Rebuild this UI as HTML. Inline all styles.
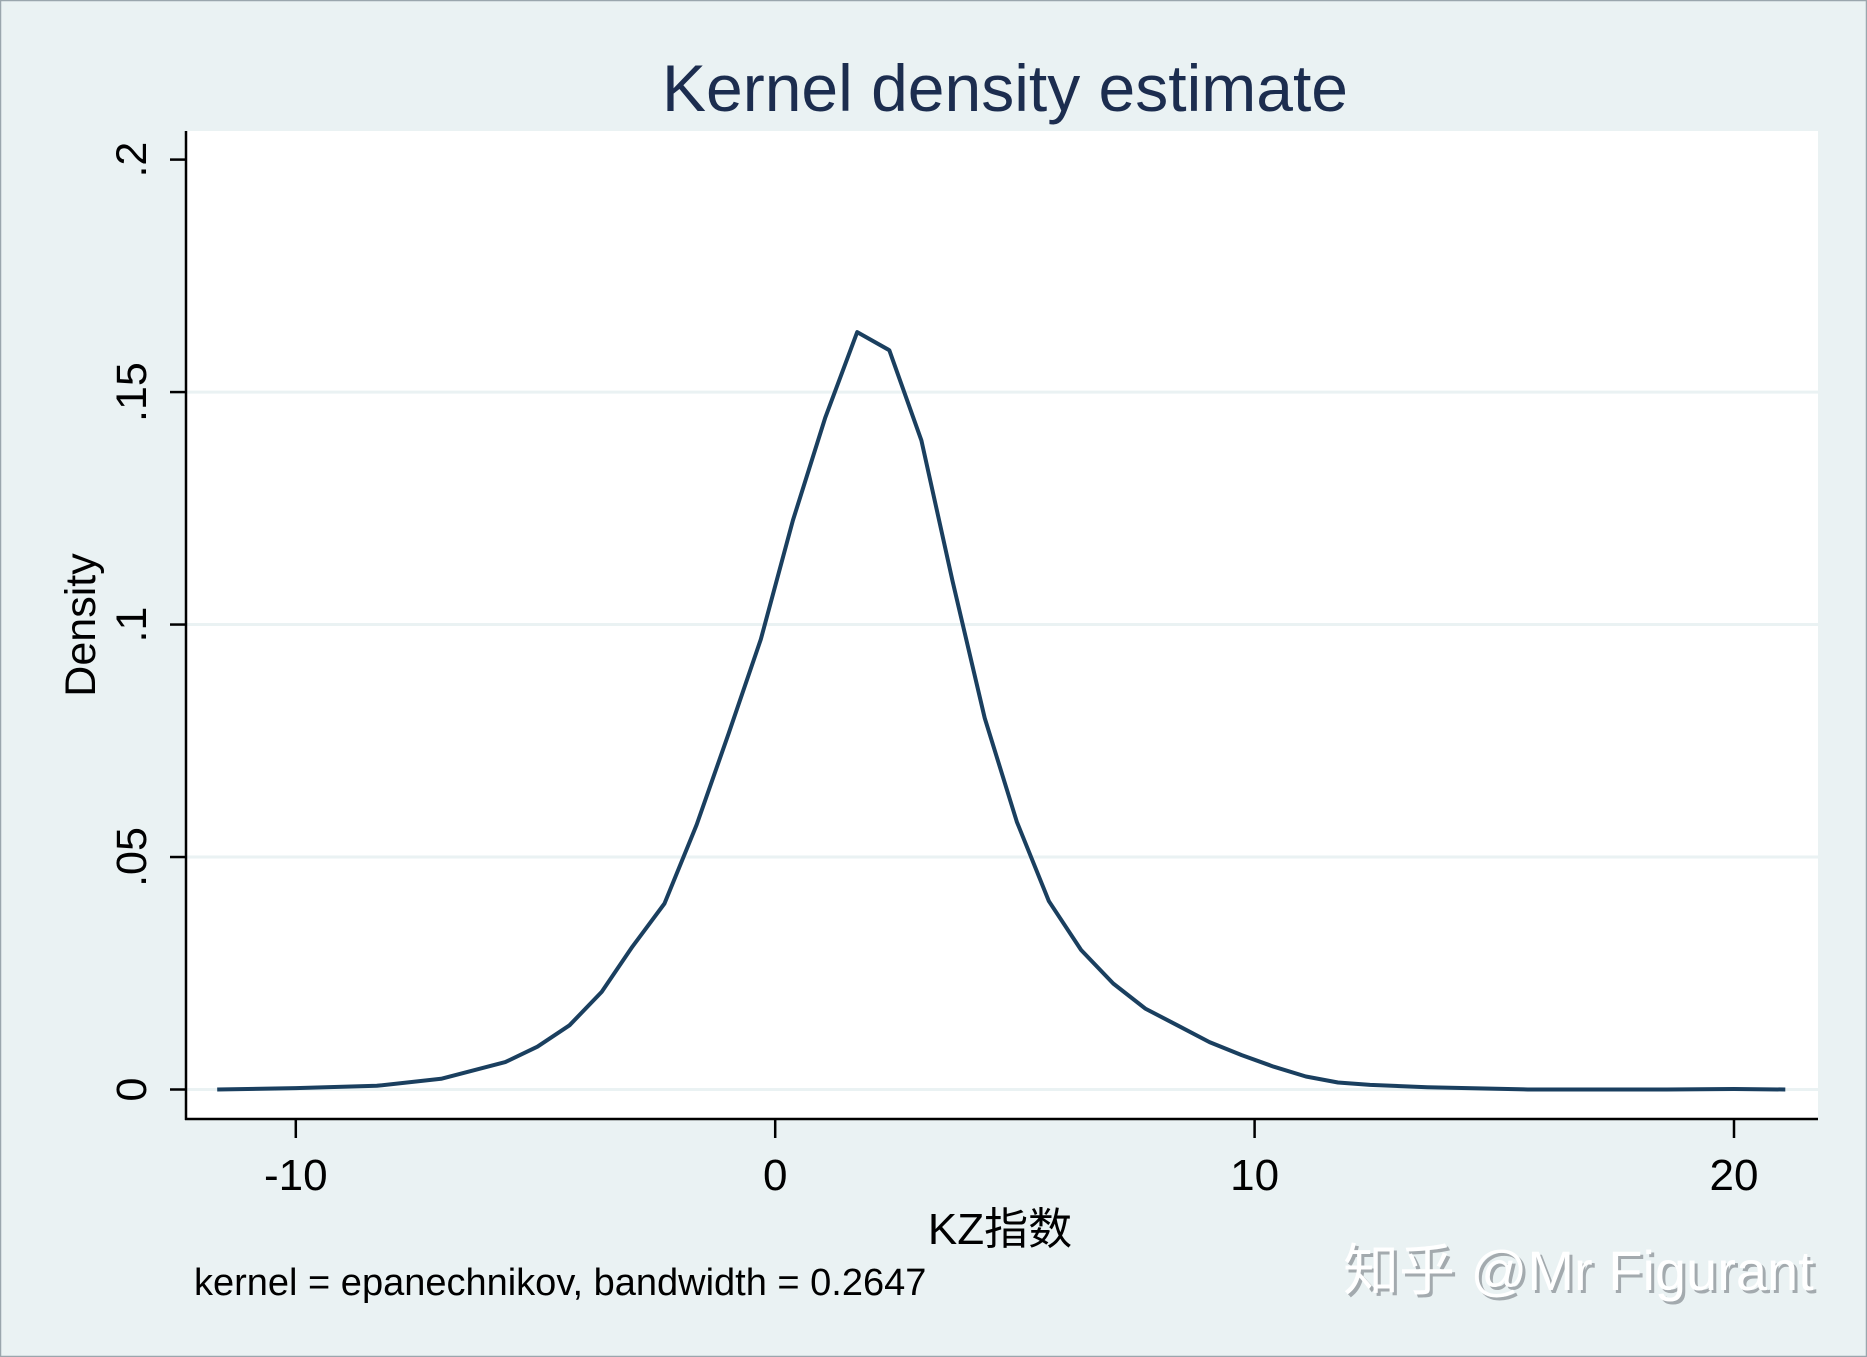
<!DOCTYPE html>
<html><head><meta charset="utf-8">
<style>
html,body{margin:0;padding:0;background:#eaf2f3;}
svg{display:block;}
text{font-family:"Liberation Sans","Noto Sans CJK SC",sans-serif;}
</style></head>
<body>
<svg id="chart" width="1867" height="1357" viewBox="0 0 1867 1357" xmlns="http://www.w3.org/2000/svg">
<rect x="0" y="0" width="1867" height="1357" fill="#eaf2f3"/>
<rect x="0.5" y="0.5" width="1866" height="1356" fill="none" stroke="#9aa6ad" stroke-width="1.5"/>
<rect x="186" y="131" width="1632" height="988" fill="#ffffff"/>
<g id="grid"></g>
<g id="axes"></g>
<polyline id="curve" fill="none" stroke="#1a3f5f" stroke-width="4" stroke-linejoin="round"/>
<text x="1005" y="111" font-size="66" fill="#1c2d4f" text-anchor="middle">Kernel density estimate</text>
<text transform="translate(95,625) rotate(-90)" font-size="43" text-anchor="middle" fill="#000">Density</text>
<text x="1000" y="1244" font-size="44" text-anchor="middle" fill="#000">KZ指数</text>
<text x="194" y="1295" font-size="38" fill="#000">kernel = epanechnikov, bandwidth = 0.2647</text>
<text x="1346" y="1293" font-size="56" fill="#a3aaae">知乎 @Mr Figurant</text>
<text x="1343" y="1290" font-size="56" fill="#ffffff">知乎 @Mr Figurant</text>
</svg>
<script>
const xVals = [-11.64,-10,-8.31,-6.97,-5.63,-4.96,-4.29,-3.62,-2.98,-2.31,-1.64,-0.97,-0.30,0.37,1.04,1.71,2.38,3.05,3.70,4.37,5.04,5.71,6.38,7.05,7.72,8.39,9.06,9.73,10.40,11.07,11.74,12.41,13.6,15.7,18.6,20,21.07];
const densVals = [0,0.0003,0.0008,0.0023,0.0059,0.0092,0.0138,0.021,0.0307,0.040,0.0569,0.0766,0.0968,0.1224,0.1444,0.1629,0.159,0.1396,0.1093,0.0799,0.0576,0.0405,0.030,0.0228,0.0174,0.0138,0.0102,0.0074,0.0049,0.0028,0.0015,0.001,0.0005,0,0,0.0001,0];
const xTicks = [-10,0,10,20];
const xTickLabels = ["-10","0","10","20"];
const yTicks = [0,0.05,0.1,0.15,0.2];
const yTickLabels = ["0",".05",".1",".15",".2"];

const NS = "http://www.w3.org/2000/svg";
function sx(v){ return 775.2 + v*47.94; }
function sy(v){ return 1089.5 - v*4649.5; }
function mk(tag, attrs, parent){
  const e = document.createElementNS(NS, tag);
  for (const k in attrs) e.setAttribute(k, attrs[k]);
  parent.appendChild(e); return e;
}
const grid = document.getElementById('grid');
const axes = document.getElementById('axes');
yTicks.forEach((t,i)=>{
  const y = sy(t);
  if (t<0.2) {
    const g = mk('line',{x1:186,x2:1818,y1:y,y2:y,stroke:'#eaf2f3','stroke-width':3},grid);
    
    
  }
  const tk = mk('line',{x1:170,x2:186,y1:y,y2:y,stroke:'#000','stroke-width':2.5},axes);
  
  
  const lb = mk('text',{transform:`translate(146,${y}) rotate(-90)`,'font-size':43,'text-anchor':'middle',fill:'#000'},axes);
  lb.textContent = yTickLabels[i];
  
  
});
const yl = mk('line',{x1:186,x2:186,y1:131,y2:1120,stroke:'#000','stroke-width':2.5},axes);


const xl = mk('line',{x1:185,x2:1818,y1:1119,y2:1119,stroke:'#000','stroke-width':2.5},axes);


xTicks.forEach((t,i)=>{
  const x = sx(t);
  const tk = mk('line',{x1:x,x2:x,y1:1119,y2:1138,stroke:'#000','stroke-width':2.5},axes);
  
  
  const lb = mk('text',{x:x,y:1190,'font-size':44,'text-anchor':'middle',fill:'#000'},axes);
  lb.textContent = xTickLabels[i];
  
  
});
document.getElementById('curve').setAttribute('points', xVals.map((x,i)=>sx(x).toFixed(1)+','+sy(densVals[i]).toFixed(1)).join(' '));
</script>
</body></html>
